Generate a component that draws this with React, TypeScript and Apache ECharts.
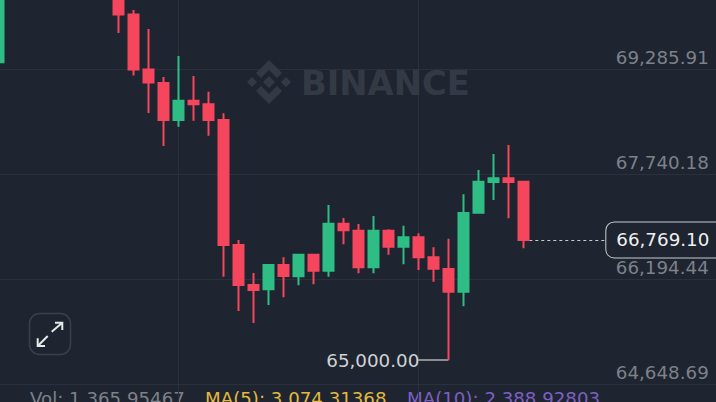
import React, { useEffect, useRef } from "react";
import * as echarts from "echarts";

const BG = "#1f2530";
const UP = "#2ebd85";
const DOWN = "#f6465d";
const GRID = "#2b313c";
const FONT = "'DejaVu Sans', sans-serif";

const opens: (number | null)[] = [69385, null, null, null, null, null, null, null, 70522, 70088, 69279, 69080, 68535, 68819, 68766, 68535, 66695, 66106, 66043, 66401, 66234, 66553, 66317, 67009, 66906, 66367, 66906, 66670, 66809, 66514, 66342, 66008, 67171, 67623, 67677, 67627];
const closes: (number | null)[] = [70600, null, null, null, null, null, null, null, 70088, 69279, 69087, 68535, 68819, 68766, 68535, 66695, 66106, 66033, 66401, 66239, 66553, 66317, 67009, 66912, 66367, 66906, 66670, 66809, 66514, 66346, 66008, 67166, 67627, 67677, 67623, 66769.1];
const lows: (number | null)[] = [69385, null, null, null, null, null, null, null, 69816, 69190, 68638, 68152, 68437, 68525, 68304, 66229, 65724, 65547, 65812, 65925, 66102, 66117, 66229, 66706, 66279, 66279, 66553, 66411, 66327, 66155, 65000, 65793, 67166, 67358, 67088, 66647];
const highs: (number | null)[] = [70700, null, null, null, null, null, null, null, 70600, 70154, 69875, 69168, 69477, 69183, 68952, 68634, 66769, 66283, 66416, 66514, 66563, 66563, 67284, 67093, 67004, 67122, 66926, 66979, 66867, 66661, 66788, 67442, 67799, 68035, 68167, 67633];
const priceTicks = [69285.91, 67740.18, 66194.44, 64648.69];
const verticalGridIndexes = [12, 28];
const lastPrice = 66769.1;
const lastIndex = 35;
const lowPrice = 65000;
const lowIndex = 30;
const bandCount = 49;
const categories = Array.from({ length: bandCount }, (_, i) => String(i));
const footer = [
  { text: "Vol: 1,365.95467", color: "#7c818a" },
  { text: "MA(5): 3,074.31368", color: "#e2b93f" },
  { text: "MA(10): 2,388.92803", color: "#7d5fc4" },
];

const fmt = (v: number) =>
  v.toLocaleString("en-US", { minimumFractionDigits: 2, maximumFractionDigits: 2 });

const candles = categories.map((_, i) =>
  opens[i] == null || opens[i] === undefined
    ? ["-", "-", "-", "-"]
    : [opens[i], closes[i], lows[i], highs[i]]
);

echarts.graphic.registerShape(
  "binanceLogo",
  echarts.graphic.extendPath(
    "M22 16L28 22L22 28L16 22ZM0 22L5 17L10 22L5 27ZM34 22L39 17L44 22L39 27ZM22 0L35 13L30 18L22 10L14 18L9 13ZM22 44L9 31L14 26L22 34L30 26L35 31Z",
    {}
  )
);

export default function App() {
  const ref = useRef<HTMLDivElement>(null);
  useEffect(() => {
    document.body.style.margin = "0";
    document.body.style.background = BG;
    const chart = echarts.init(ref.current!, undefined, { renderer: "svg" });
    const iconStroke = { stroke: "#e6e8ea", lineWidth: 2, fill: "none" };
    chart.setOption({
      animation: false,
      backgroundColor: BG,
      grid: { left: -9.2, width: 735, top: 0, height: 402, outerBoundsMode: "none" },
      xAxis: {
        type: "category",
        data: categories,
        boundaryGap: true,
        axisLine: { show: false },
        axisTick: { show: false },
        axisLabel: { show: false },
        splitLine: {
          show: true,
          alignWithLabel: true,
          interval: (i: number) => verticalGridIndexes.includes(i),
          lineStyle: { color: GRID, width: 1 },
        },
      },
      yAxis: {
        type: "value",
        position: "right",
        min: 64384.15,
        max: 70301.6,
        axisLine: { show: false },
        axisTick: { show: false, customValues: priceTicks },
        splitLine: { show: true, lineStyle: { color: GRID, width: 1 } },
        axisLabel: {
          inside: true,
          margin: 17,
          customValues: priceTicks,
          formatter: (v: number) => fmt(v),
          color: "#7c818a",
          fontFamily: FONT,
          fontSize: 18.3,
          verticalAlign: "bottom",
          lineHeight: 20,
          padding: [0, 0, 2, 0],
        },
      },
      series: [
        {
          type: "candlestick",
          data: candles,
          barWidth: 11,
          clip: true,
          z: 3,
          itemStyle: {
            color: UP,
            color0: DOWN,
            borderColor: UP,
            borderColor0: DOWN,
            borderWidth: 2,
          },
          markLine: {
            silent: true,
            symbol: "none",
            z: 1,
            animation: false,
            data: [
              [
                {
                  coord: [String(lastIndex), lastPrice],
                  lineStyle: { color: "#c9ccd0", type: [3, 3], width: 1 },
                  label: {
                    show: true,
                    position: "end",
                    distance: -7,
                    formatter: () => fmt(lastPrice),
                    color: "#eef0f2",
                    fontFamily: FONT,
                    fontSize: 18.3,
                    backgroundColor: BG,
                    borderColor: "#c9ccd0",
                    borderWidth: 1,
                    borderRadius: 8,
                    padding: [9, 16, 8, 10],
                  },
                },
                { coord: [String(lastIndex + 6), lastPrice] },
              ],
              [
                {
                  coord: [String(lowIndex), lowPrice],
                  lineStyle: { color: "#aeb2b8", type: "solid", width: 1.5 },
                  label: {
                    show: true,
                    position: "end",
                    distance: -1,
                    formatter: () => fmt(lowPrice),
                    color: "#cfd2d6",
                    fontFamily: FONT,
                    fontSize: 18.3,
                    padding: [4, 0, 0, 0],
                  },
                },
                { coord: [String(lowIndex - 2), lowPrice] },
              ],
            ],
          },
        },
      ],
      graphic: [
        {
          type: "binanceLogo",
          x: 247,
          y: 60,
          z: 1,
          silent: true,
          style: { fill: "#343a45" },
        },
        {
          type: "text",
          x: 301,
          y: 83,
          z: 1,
          silent: true,
          style: {
            text: "BINANCE",
            fill: "#343a45",
            font: `bold 33.8px ${FONT}`,
            textVerticalAlign: "middle",
          },
        },
        {
          type: "rect",
          shape: { x: 29.5, y: 313.5, width: 41, height: 41, r: 10 },
          style: { fill: "none", stroke: "#3a404b", lineWidth: 1.5 },
        },
        { type: "line", shape: { x1: 51.7, y1: 331.7, x2: 62.3, y2: 322.7 }, style: iconStroke },
        { type: "polyline", shape: { points: [[55, 322.7], [62.3, 322.7], [62.3, 330]] }, style: iconStroke },
        { type: "line", shape: { x1: 47.7, y1: 336, x2: 37.7, y2: 346 }, style: iconStroke },
        { type: "polyline", shape: { points: [[37.7, 338.3], [37.7, 346], [45, 346]] }, style: iconStroke },
        ...footer.map((f, i) => ({
          type: "text",
          x: [30, 205, 407][i],
          y: 398.5,
          style: {
            text: f.text,
            fill: f.color,
            font: `18.2px ${FONT}`,
            textVerticalAlign: "middle",
          },
        })),
      ],
    });
    return () => chart.dispose();
  }, []);
  return <div ref={ref} style={{ width: 716, height: 402, overflow: "hidden" }} />;
}
